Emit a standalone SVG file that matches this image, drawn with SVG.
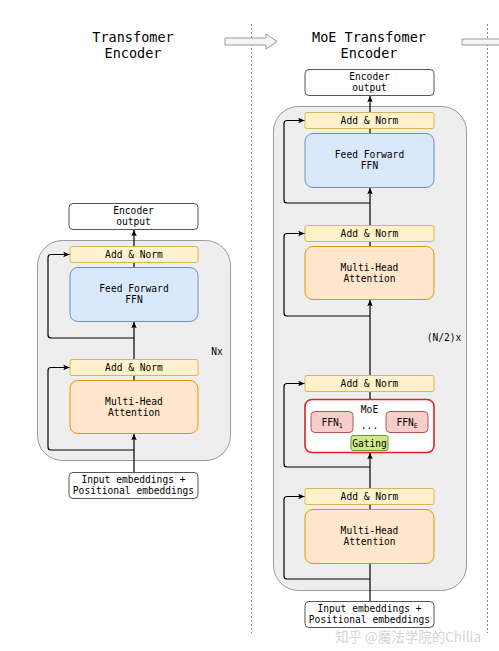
<svg xmlns="http://www.w3.org/2000/svg" width="499" height="651" viewBox="0 0 499 651">
<defs>
<marker id="ah" viewBox="0 0 10 10" refX="9" refY="5" markerWidth="7" markerHeight="7" orient="auto" markerUnits="userSpaceOnUse">
<path d="M0,1 L9,5 L0,9 L2,5 Z" fill="#000"/>
</marker>
<style>
text{font-family:"DejaVu Sans Mono","Liberation Mono",monospace;fill:#000;text-anchor:middle}
.t{font-size:13.5px}
.s{font-size:9.6px}
.sub{font-size:6.5px}
.out{fill:#fff;stroke:#555;stroke-width:1}
.cont{fill:#eeeeee;stroke:#999;stroke-width:1}
.an{fill:#fff2cc;stroke:#d6b656;stroke-width:1}
.ff{fill:#dae8fc;stroke:#6c8ebf;stroke-width:1}
.mh{fill:#ffe6cc;stroke:#d79b00;stroke-width:1}
.moe{fill:#fff;stroke:#d9222a;stroke-width:1.6}
.fe{fill:#f8cecc;stroke:#b85450;stroke-width:1}
.gt{fill:#cdeb8b;stroke:#6a9a3a;stroke-width:1}
.ln{fill:none;stroke:#000;stroke-width:1.2}
.dash{stroke:#888;stroke-width:1;stroke-dasharray:2 2}
.ba{fill:#f5f5f5;stroke:#999;stroke-width:1}
</style>
</defs>
<rect width="499" height="651" fill="#fff"/>

<g id="separators">
<line class="dash" x1="251.5" y1="24" x2="251.5" y2="633"/>
<line class="dash" x1="487.5" y1="24" x2="487.5" y2="633"/>
<path class="ba" d="M225,38 L266,38 L266,34 L277,41.5 L266,49 L266,45 L225,45 Z"/>
<path class="ba" d="M462,39 L505,39 L505,45 L462,45 Z"/>
</g>

<g id="titles">
<text class="t" x="133" y="42">Transfomer</text>
<text class="t" x="133" y="58">Encoder</text>
<text class="t" x="369" y="42">MoE Transfomer</text>
<text class="t" x="369" y="58">Encoder</text>
</g>

<!-- Left encoder -->
<g id="L-container"><rect class="cont" x="37.5" y="240.5" width="193" height="220" rx="25"/><text class="s" x="217" y="355">Nx</text></g>
<g id="L-output"><rect class="out" x="69" y="203.5" width="129" height="26" rx="4"/><text class="s" x="133.5" y="214">Encoder</text><text class="s" x="133.5" y="225">output</text></g>
<g id="L-addnorm2"><rect class="an" x="70" y="246.5" width="128" height="16" rx="2"/><text class="s" x="134" y="258">Add &amp; Norm</text></g>
<g id="L-ffn"><rect class="ff" x="70" y="267.5" width="128" height="54" rx="8"/><text class="s" x="134" y="292">Feed Forward</text><text class="s" x="134" y="303">FFN</text></g>
<g id="L-addnorm1"><rect class="an" x="70" y="359.5" width="128" height="16" rx="2"/><text class="s" x="134" y="371">Add &amp; Norm</text></g>
<g id="L-mha"><rect class="mh" x="70" y="380.5" width="128" height="53" rx="8"/><text class="s" x="134" y="405">Multi-Head</text><text class="s" x="134" y="416">Attention</text></g>
<g id="L-input"><rect class="out" x="69" y="472.5" width="129" height="26" rx="4"/><text class="s" x="133.5" y="483">Input embeddings +</text><text class="s" x="133.5" y="494">Positional embeddings</text></g>

<!-- Right encoder -->
<g id="R-container"><rect class="cont" x="273.5" y="106.5" width="193" height="484" rx="25"/><text class="s" x="444" y="341">(N/2)x</text></g>
<g id="R-output"><rect class="out" x="305" y="69.5" width="129" height="26" rx="4"/><text class="s" x="369.5" y="80">Encoder</text><text class="s" x="369.5" y="91">output</text></g>
<g id="R-addnorm4"><rect class="an" x="305" y="112.5" width="129" height="16" rx="2"/><text class="s" x="369.5" y="124">Add &amp; Norm</text></g>
<g id="R-ffn"><rect class="ff" x="305" y="133.5" width="129" height="54" rx="8"/><text class="s" x="369.5" y="158">Feed Forward</text><text class="s" x="369.5" y="169">FFN</text></g>
<g id="R-addnorm3"><rect class="an" x="305" y="225.5" width="129" height="16" rx="2"/><text class="s" x="369.5" y="237">Add &amp; Norm</text></g>
<g id="R-mha2"><rect class="mh" x="305" y="246.5" width="129" height="53" rx="8"/><text class="s" x="369.5" y="271">Multi-Head</text><text class="s" x="369.5" y="282">Attention</text></g>
<g id="R-addnorm2"><rect class="an" x="305" y="375.5" width="129" height="16" rx="2"/><text class="s" x="369.5" y="387">Add &amp; Norm</text></g>
<g id="R-moe">
<rect class="moe" x="305" y="399.5" width="129" height="53" rx="7"/>
<text class="s" x="369.5" y="413">MoE</text>
<rect class="fe" x="311" y="411.5" width="42" height="21" rx="4"/>
<text class="s" x="332" y="426">FFN<tspan class="sub" dy="2">1</tspan></text>
<text class="s" x="369.5" y="429">...</text>
<rect class="fe" x="386" y="411.5" width="42" height="21" rx="4"/>
<text class="s" x="407" y="426">FFN<tspan class="sub" dy="2">E</tspan></text>
<rect class="gt" x="351" y="435.5" width="37" height="15" rx="2"/>
<text class="s" x="369.5" y="446.5">Gating</text>
</g>
<g id="R-addnorm1"><rect class="an" x="305" y="488.5" width="129" height="16" rx="2"/><text class="s" x="369.5" y="500">Add &amp; Norm</text></g>
<g id="R-mha1"><rect class="mh" x="305" y="509.5" width="129" height="54" rx="8"/><text class="s" x="369.5" y="534">Multi-Head</text><text class="s" x="369.5" y="545">Attention</text></g>
<g id="R-input"><rect class="out" x="305" y="601.5" width="129" height="26" rx="4"/><text class="s" x="369.5" y="612">Input embeddings +</text><text class="s" x="369.5" y="623">Positional embeddings</text></g>

<g id="connectors">
<!-- left main -->
<line class="ln" x1="134" y1="472" x2="134" y2="434" marker-end="url(#ah)"/>
<line class="ln" x1="134" y1="380" x2="134" y2="376"/>
<line class="ln" x1="134" y1="359" x2="134" y2="322" marker-end="url(#ah)"/>
<line class="ln" x1="134" y1="267" x2="134" y2="263"/>
<line class="ln" x1="134" y1="246" x2="134" y2="230" marker-end="url(#ah)"/>
<path class="ln" d="M134,450 L51,450 Q48,450 48,447 L48,370.5 Q48,367.5 51,367.5 L69.5,367.5" marker-end="url(#ah)"/>
<path class="ln" d="M134,338 L51,338 Q48,338 48,335 L48,257.5 Q48,254.5 51,254.5 L69.5,254.5" marker-end="url(#ah)"/>
<!-- right main -->
<line class="ln" x1="370" y1="601" x2="370" y2="564"/>
<line class="ln" x1="370" y1="509" x2="370" y2="505"/>
<line class="ln" x1="370" y1="488" x2="370" y2="453" marker-end="url(#ah)"/>
<line class="ln" x1="370" y1="399" x2="370" y2="392"/>
<line class="ln" x1="370" y1="375" x2="370" y2="300" marker-end="url(#ah)"/>
<line class="ln" x1="370" y1="246" x2="370" y2="242"/>
<line class="ln" x1="370" y1="225" x2="370" y2="188" marker-end="url(#ah)"/>
<line class="ln" x1="370" y1="133" x2="370" y2="129"/>
<line class="ln" x1="370" y1="112" x2="370" y2="96" marker-end="url(#ah)"/>
<path class="ln" d="M370,579 L287,579 Q284,579 284,576 L284,499.5 Q284,496.5 287,496.5 L304.5,496.5" marker-end="url(#ah)"/>
<path class="ln" d="M370,467 L287,467 Q284,467 284,464 L284,386.5 Q284,383.5 287,383.5 L304.5,383.5" marker-end="url(#ah)"/>
<path class="ln" d="M370,316 L287,316 Q284,316 284,313 L284,236.5 Q284,233.5 287,233.5 L304.5,233.5" marker-end="url(#ah)"/>
<path class="ln" d="M370,203 L287,203 Q284,203 284,200 L284,123.5 Q284,120.5 287,120.5 L304.5,120.5" marker-end="url(#ah)"/>
</g>

<g id="watermark">
<text x="408" y="642" style="font-family:'Noto Sans CJK SC','Noto Sans',sans-serif;font-size:13.5px;fill:#c8c8c8;fill-opacity:0.8">知乎 @魔法学院的Chilla</text>
</g>
</svg>
